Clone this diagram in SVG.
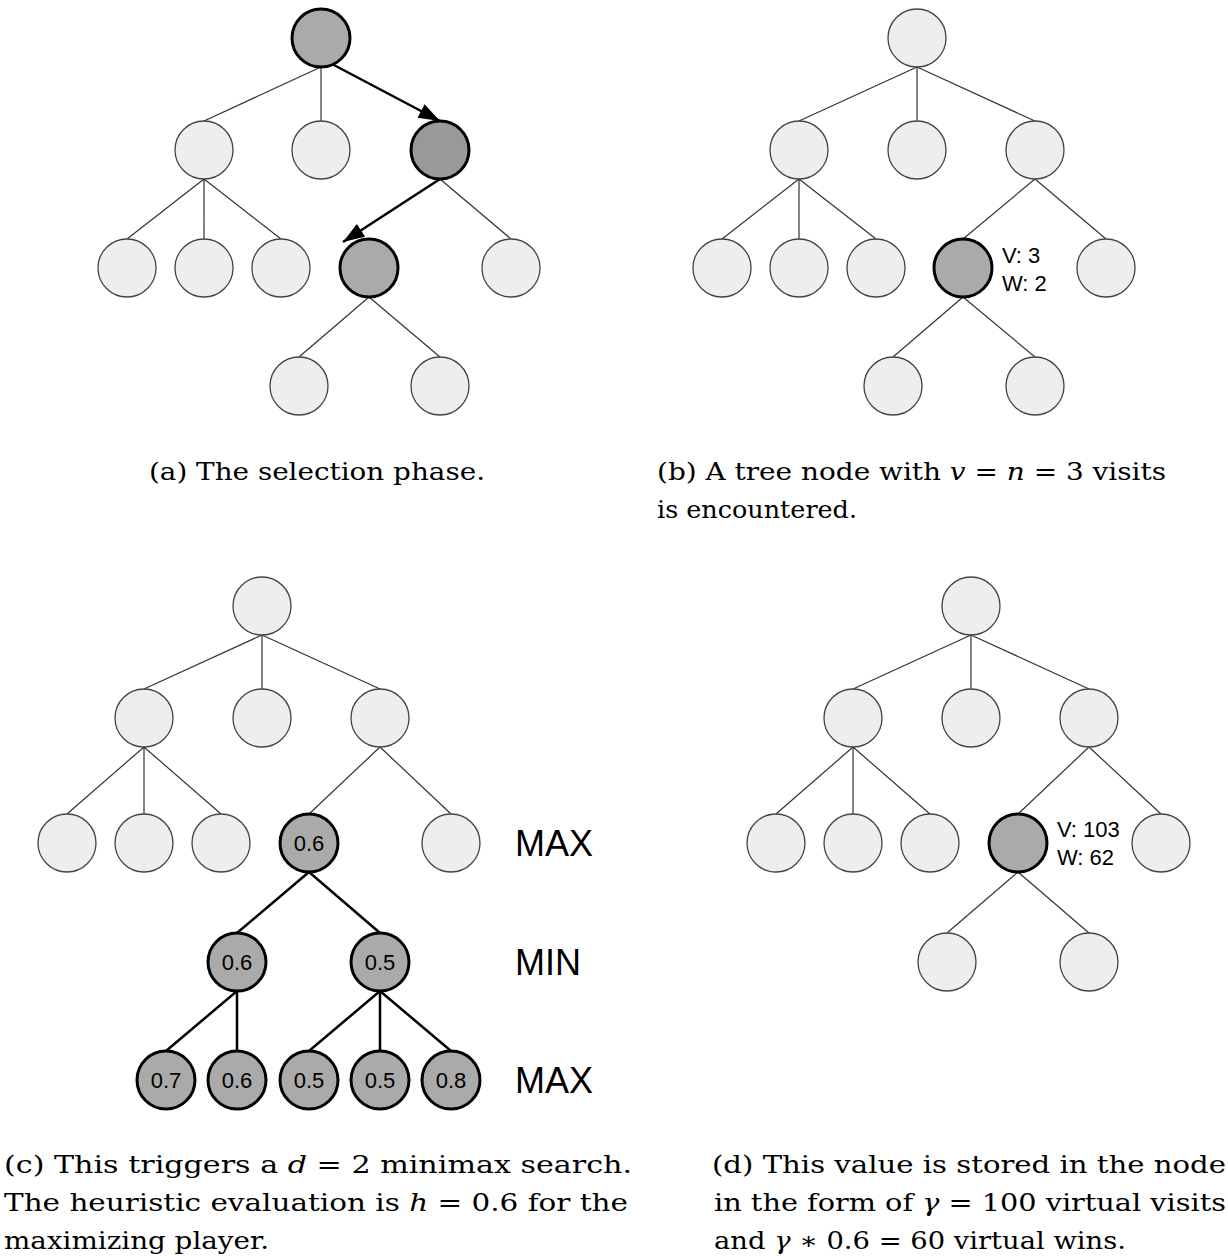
<svg xmlns="http://www.w3.org/2000/svg" width="1228" height="1256" viewBox="0 0 1228 1256">
<style>
.n{fill:#eeeeee;stroke:#444;stroke-width:1.3}
.h{fill:#aaaaaa;stroke:#000;stroke-width:3}
.d{fill:#999999;stroke:#000;stroke-width:3}
.e{stroke:#333;stroke-width:1.2;fill:none}
.t{stroke:#000;stroke-width:2.5;fill:none}
.v{font-family:"Liberation Sans",Arial,sans-serif;font-size:22px;fill:#000}
.lab{font-family:"Liberation Sans",Arial,sans-serif;font-size:36px;fill:#000}
.c{font-family:"DejaVu Serif","Liberation Serif",serif;font-size:24px;fill:#000}
.i{font-style:italic}
</style>
<defs>
<marker id="a2" viewBox="0 0 20 14" refX="20" refY="7" markerWidth="22" markerHeight="15" orient="auto" markerUnits="userSpaceOnUse"><path d="M0,0L20,7L0,14z" fill="#000"/></marker></defs>
<g id="connectors">
<path class="e" d="M321,67L204,121M321,67L321,121M204,179L127,239M204,179L204,239M204,179L281,239M440,179L511,239M369,297L299,357M369,297L440,357"/>
<path class="t" d="M332,64L440,121" marker-end="url(#a2)"/>
<path class="t" d="M440,179L343,242" marker-end="url(#a2)"/>
<path class="e" d="M917,67L799,121M917,67L917,121M917,67L1035,121M799,179L722,239M799,179L799,239M799,179L876,239M1035,179L963,239M1035,179L1106,239M963,297L893,357M963,297L1035,357"/>
<path class="e" d="M262,635L144,689M262,635L262,689M262,635L380,689M144,747L67,814M144,747L144,814M144,747L221,814M380,747L309,814M380,747L451,814"/>
<path class="t" d="M309,872L237,933M309,872L380,933M237,991L166,1051M237,991L237,1051M380,991L309,1051M380,991L380,1051M380,991L451,1051"/>
<path class="e" d="M971,635L853,689M971,635L971,689M971,635L1089,689M853,747L776,814M853,747L853,814M853,747L930,814M1089,747L1018,814M1089,747L1161,814M1018,872L947,933M1018,872L1089,933"/>
</g>
<g id="panel-a">
<circle id="a-root" class="h" cx="321" cy="38" r="29"/>
<circle class="n" cx="204" cy="150" r="29"/><circle class="n" cx="321" cy="150" r="29"/><circle id="a-sel" class="d" cx="440" cy="150" r="29"/>
<circle class="n" cx="127" cy="268" r="29"/><circle class="n" cx="204" cy="268" r="29"/><circle class="n" cx="281" cy="268" r="29"/><circle class="h" cx="369" cy="268" r="29"/><circle class="n" cx="511" cy="268" r="29"/>
<circle class="n" cx="299" cy="386" r="29"/><circle class="n" cx="440" cy="386" r="29"/>
</g>
<g id="panel-b">
<circle class="n" cx="917" cy="38" r="29"/>
<circle class="n" cx="799" cy="150" r="29"/><circle class="n" cx="917" cy="150" r="29"/><circle class="n" cx="1035" cy="150" r="29"/>
<circle class="n" cx="722" cy="268" r="29"/><circle class="n" cx="799" cy="268" r="29"/><circle class="n" cx="876" cy="268" r="29"/><circle class="h" cx="963" cy="268" r="29"/><circle class="n" cx="1106" cy="268" r="29"/>
<circle class="n" cx="893" cy="386" r="29"/><circle class="n" cx="1035" cy="386" r="29"/>
<text class="v" x="1002" y="263">V: 3</text><text class="v" x="1002" y="291">W: 2</text>
</g>
<g id="panel-c">
<circle class="n" cx="262" cy="606" r="29"/>
<circle class="n" cx="144" cy="718" r="29"/><circle class="n" cx="262" cy="718" r="29"/><circle class="n" cx="380" cy="718" r="29"/>
<circle class="n" cx="67" cy="843" r="29"/><circle class="n" cx="144" cy="843" r="29"/><circle class="n" cx="221" cy="843" r="29"/><circle class="h" cx="309" cy="843" r="29"/><circle class="n" cx="451" cy="843" r="29"/>
<circle class="h" cx="237" cy="962" r="29"/><circle class="h" cx="380" cy="962" r="29"/>
<circle class="h" cx="166" cy="1080" r="29"/><circle class="h" cx="237" cy="1080" r="29"/><circle class="h" cx="309" cy="1080" r="29"/><circle class="h" cx="380" cy="1080" r="29"/><circle class="h" cx="451" cy="1080" r="29"/>
<g class="v" text-anchor="middle">
<text x="309" y="851">0.6</text><text x="237" y="970">0.6</text><text x="380" y="970">0.5</text>
<text x="166" y="1088">0.7</text><text x="237" y="1088">0.6</text><text x="309" y="1088">0.5</text><text x="380" y="1088">0.5</text><text x="451" y="1088">0.8</text>
</g>
<text class="lab" x="515" y="856">MAX</text><text class="lab" x="515" y="975">MIN</text><text class="lab" x="515" y="1093">MAX</text>
</g>
<g id="panel-d">
<circle class="n" cx="971" cy="606" r="29"/>
<circle class="n" cx="853" cy="718" r="29"/><circle class="n" cx="971" cy="718" r="29"/><circle class="n" cx="1089" cy="718" r="29"/>
<circle class="n" cx="776" cy="843" r="29"/><circle class="n" cx="853" cy="843" r="29"/><circle class="n" cx="930" cy="843" r="29"/><circle class="h" cx="1018" cy="843" r="29"/><circle class="n" cx="1161" cy="843" r="29"/>
<circle class="n" cx="947" cy="962" r="29"/><circle class="n" cx="1089" cy="962" r="29"/>
<text class="v" x="1057" y="837">V: 103</text><text class="v" x="1057" y="865">W: 62</text>
</g>
<g id="captions">
<text class="c" x="149" y="480" textLength="336" lengthAdjust="spacingAndGlyphs">(a)  The selection phase.</text>
<text class="c" x="657" y="480" textLength="509" lengthAdjust="spacingAndGlyphs">(b)  A tree node with <tspan class="i">v</tspan> = <tspan class="i">n</tspan> = 3 visits</text>
<text class="c" x="657" y="518" textLength="200" lengthAdjust="spacingAndGlyphs">is encountered.</text>
<text class="c" x="4" y="1173" textLength="628" lengthAdjust="spacingAndGlyphs">(c)  This triggers a <tspan class="i">d</tspan> = 2 minimax search.</text>
<text class="c" x="4" y="1211" textLength="624" lengthAdjust="spacingAndGlyphs">The heuristic evaluation is <tspan class="i">h</tspan> = 0.6 for the</text>
<text class="c" x="4" y="1249" textLength="265" lengthAdjust="spacingAndGlyphs">maximizing player.</text>
<text class="c" x="712" y="1173" textLength="514" lengthAdjust="spacingAndGlyphs">(d)  This value is stored in the node</text>
<text class="c" x="714" y="1211" textLength="512" lengthAdjust="spacingAndGlyphs">in the form of <tspan class="i">γ</tspan> = 100 virtual visits</text>
<text class="c" x="714" y="1249" textLength="412" lengthAdjust="spacingAndGlyphs">and <tspan class="i">γ</tspan> ∗ 0.6 = 60 virtual wins.</text>
</g>
</svg>
